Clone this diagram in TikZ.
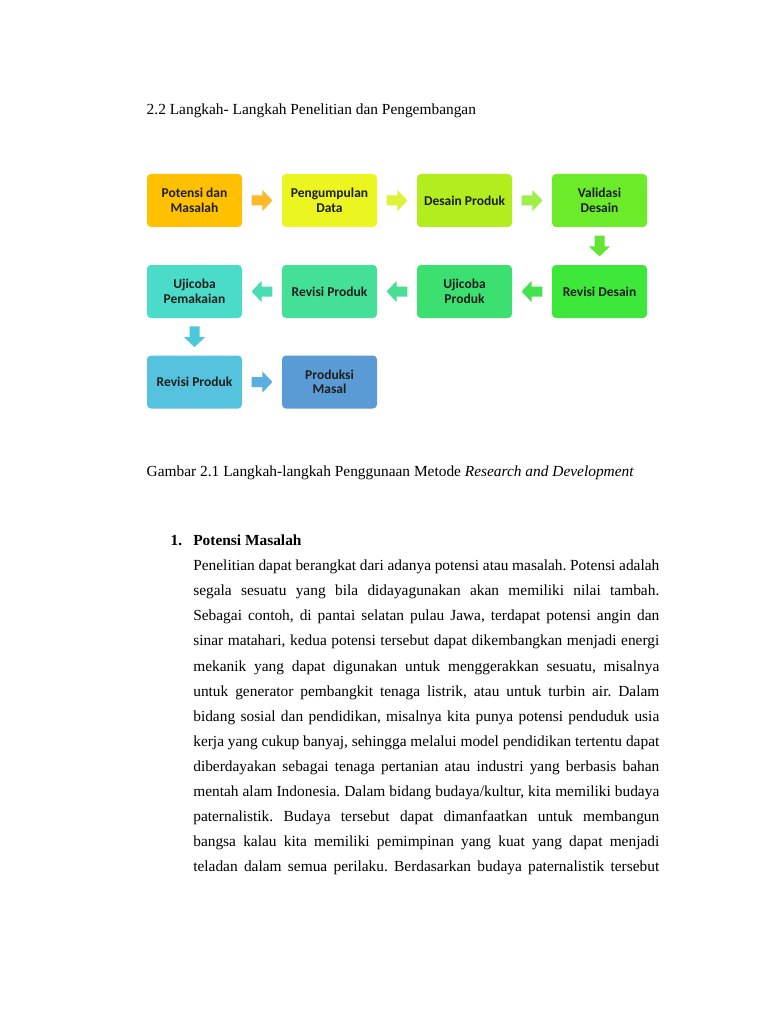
\documentclass[tikz,border=0pt]{standalone}
\usepackage{fontspec}
\setmainfont{Liberation Serif}
\newfontfamily\boxfont{Carlito}
\usetikzlibrary{calc}
\definecolor{cA}{HTML}{FFC000}
\definecolor{cB}{HTML}{EBF51F}
\definecolor{cC}{HTML}{B2EE1E}
\definecolor{cD}{HTML}{6CEB2A}
\definecolor{cE}{HTML}{3DE83A}
\definecolor{cF}{HTML}{3CE070}
\definecolor{cG}{HTML}{44E098}
\definecolor{cH}{HTML}{4ADCC8}
\definecolor{cI}{HTML}{56C3DE}
\definecolor{cJ}{HTML}{5B9BD5}
\definecolor{aA}{HTML}{FDB927}
\definecolor{aB}{HTML}{DEF23C}
\definecolor{aC}{HTML}{A0EE48}
\definecolor{aD}{HTML}{62E536}
\definecolor{aE}{HTML}{45E24F}
\definecolor{aF}{HTML}{48DE94}
\definecolor{aG}{HTML}{4ADCB2}
\definecolor{aH}{HTML}{4CC8DA}
\definecolor{aI}{HTML}{5AAEE0}
\definecolor{boxtext}{HTML}{1E1E1E}
\frenchspacing
\newcommand\arrR[2]{\fill[#2, shift={(#1)}] (-10.4,-5) -- (0.3,-5) -- (0.3,-10.7) -- (10.4,0) -- (0.3,10.7) -- (0.3,5) -- (-10.4,5) -- cycle;}
\newcommand\arrL[2]{\fill[#2, shift={(#1)}] (10.4,-5) -- (-0.3,-5) -- (-0.3,-10.7) -- (-10.4,0) -- (-0.3,10.7) -- (-0.3,5) -- (10.4,5) -- cycle;}
\newcommand\arrD[2]{\fill[#2, shift={(#1)}] (-5,-10.4) -- (-5,0.3) -- (-10.7,0.3) -- (0,10.4) -- (10.7,0.3) -- (5,0.3) -- (5,-10.4) -- cycle;}
\newcommand\bodyline[2]{\node[txt] (l#1) at (193.3,{570.7+25.08*(#1-1)}) {\frenchspacing\hbox to 466pt{#2}};}
\begin{document}
\begin{tikzpicture}[x=1pt,y=-1pt,
  txt/.style={anchor=base west, inner sep=0pt, outer sep=0pt, font=\fontsize{15.4}{18}\selectfont\frenchspacing},
  stepbox/.style={rounded corners=4pt, minimum width=95pt, minimum height=53pt, inner sep=2pt,
    align=center, text=boxtext, font=\boxfont\bfseries\fontsize{13.5}{14.5}\selectfont}]
\useasboundingbox[fill=white] (0,0) rectangle (768,1024);
\node[txt] (head) at (146.7,115) {2.2 Langkah- Langkah Penelitian dan Pengembangan};
% row 1
\node[stepbox, fill=cA] (b1) at (194.5,200.5) {Potensi dan\\Masalah};
\node[stepbox, fill=cB] (b2) at (329.5,200.5) {Pengumpulan\\Data};
\node[stepbox, fill=cC] (b3) at (464.5,200.5) {Desain Produk};
\node[stepbox, fill=cD] (b4) at (599.5,200.5) {Validasi\\Desain};
% row 2
\node[stepbox, fill=cE] (b5) at (599.5,291.5) {Revisi Desain};
\node[stepbox, fill=cF] (b6) at (464.5,291.5) {Ujicoba\\Produk};
\node[stepbox, fill=cG] (b7) at (329.5,291.5) {Revisi Produk};
\node[stepbox, fill=cH] (b8) at (194.5,291.5) {Ujicoba\\Pemakaian};
% row 3
\node[stepbox, fill=cI] (b9) at (194.5,382) {Revisi Produk};
\node[stepbox, fill=cJ] (b10) at (329.5,382) {Produksi\\Masal};
% arrow positions
\coordinate (m1) at ($(b1.east)!0.5!(b2.west)$);
\coordinate (m2) at ($(b2.east)!0.5!(b3.west)$);
\coordinate (m3) at ($(b3.east)!0.5!(b4.west)$);
\coordinate (m4) at ($(b4.south)!0.5!(b5.north)$);
\coordinate (m5) at ($(b5.west)!0.5!(b6.east)$);
\coordinate (m6) at ($(b6.west)!0.5!(b7.east)$);
\coordinate (m7) at ($(b7.west)!0.5!(b8.east)$);
\coordinate (m8) at ($(b8.south)!0.5!(b9.north)$);
\coordinate (m9) at ($(b9.east)!0.5!(b10.west)$);
\arrR{m1}{aA}
\arrR{m2}{aB}
\arrR{m3}{aC}
\arrD{m4}{aD}
\arrL{m5}{aE}
\arrL{m6}{aF}
\arrL{m7}{aG}
\arrD{m8}{aH}
\arrR{m9}{aI}
% caption
\node[txt] (cap) at (146.7,476) {Gambar 2.1 Langkah-langkah Penggunaan Metode \textit{Research and Development}};
% section
\node[txt, font=\fontsize{15.4}{18}\selectfont\bfseries] (num) at (170.7,545.5) {1.};
\node[txt, font=\fontsize{15.4}{18}\selectfont\bfseries] (sec) at (193.3,545.5) {Potensi Masalah};
\bodyline{1}{Penelitian dapat berangkat dari adanya potensi atau masalah. Potensi adalah}
\bodyline{2}{segala sesuatu yang bila didayagunakan akan memiliki nilai tambah.}
\bodyline{3}{Sebagai contoh, di pantai selatan pulau Jawa, terdapat potensi angin dan}
\bodyline{4}{sinar matahari, kedua potensi tersebut dapat dikembangkan menjadi energi}
\bodyline{5}{mekanik yang dapat digunakan untuk menggerakkan sesuatu, misalnya}
\bodyline{6}{untuk generator pembangkit tenaga listrik, atau untuk turbin air. Dalam}
\bodyline{7}{bidang sosial dan pendidikan, misalnya kita punya potensi penduduk usia}
\bodyline{8}{kerja yang cukup banyaj, sehingga melalui model pendidikan tertentu dapat}
\bodyline{9}{diberdayakan sebagai tenaga pertanian atau industri yang berbasis bahan}
\bodyline{10}{mentah alam Indonesia. Dalam bidang budaya/kultur, kita memiliki budaya}
\bodyline{11}{paternalistik. Budaya tersebut dapat dimanfaatkan untuk membangun}
\bodyline{12}{bangsa kalau kita memiliki pemimpinan yang kuat yang dapat menjadi}
\bodyline{13}{teladan dalam semua perilaku. Berdasarkan budaya paternalistik tersebut}
\end{tikzpicture}
\end{document}
